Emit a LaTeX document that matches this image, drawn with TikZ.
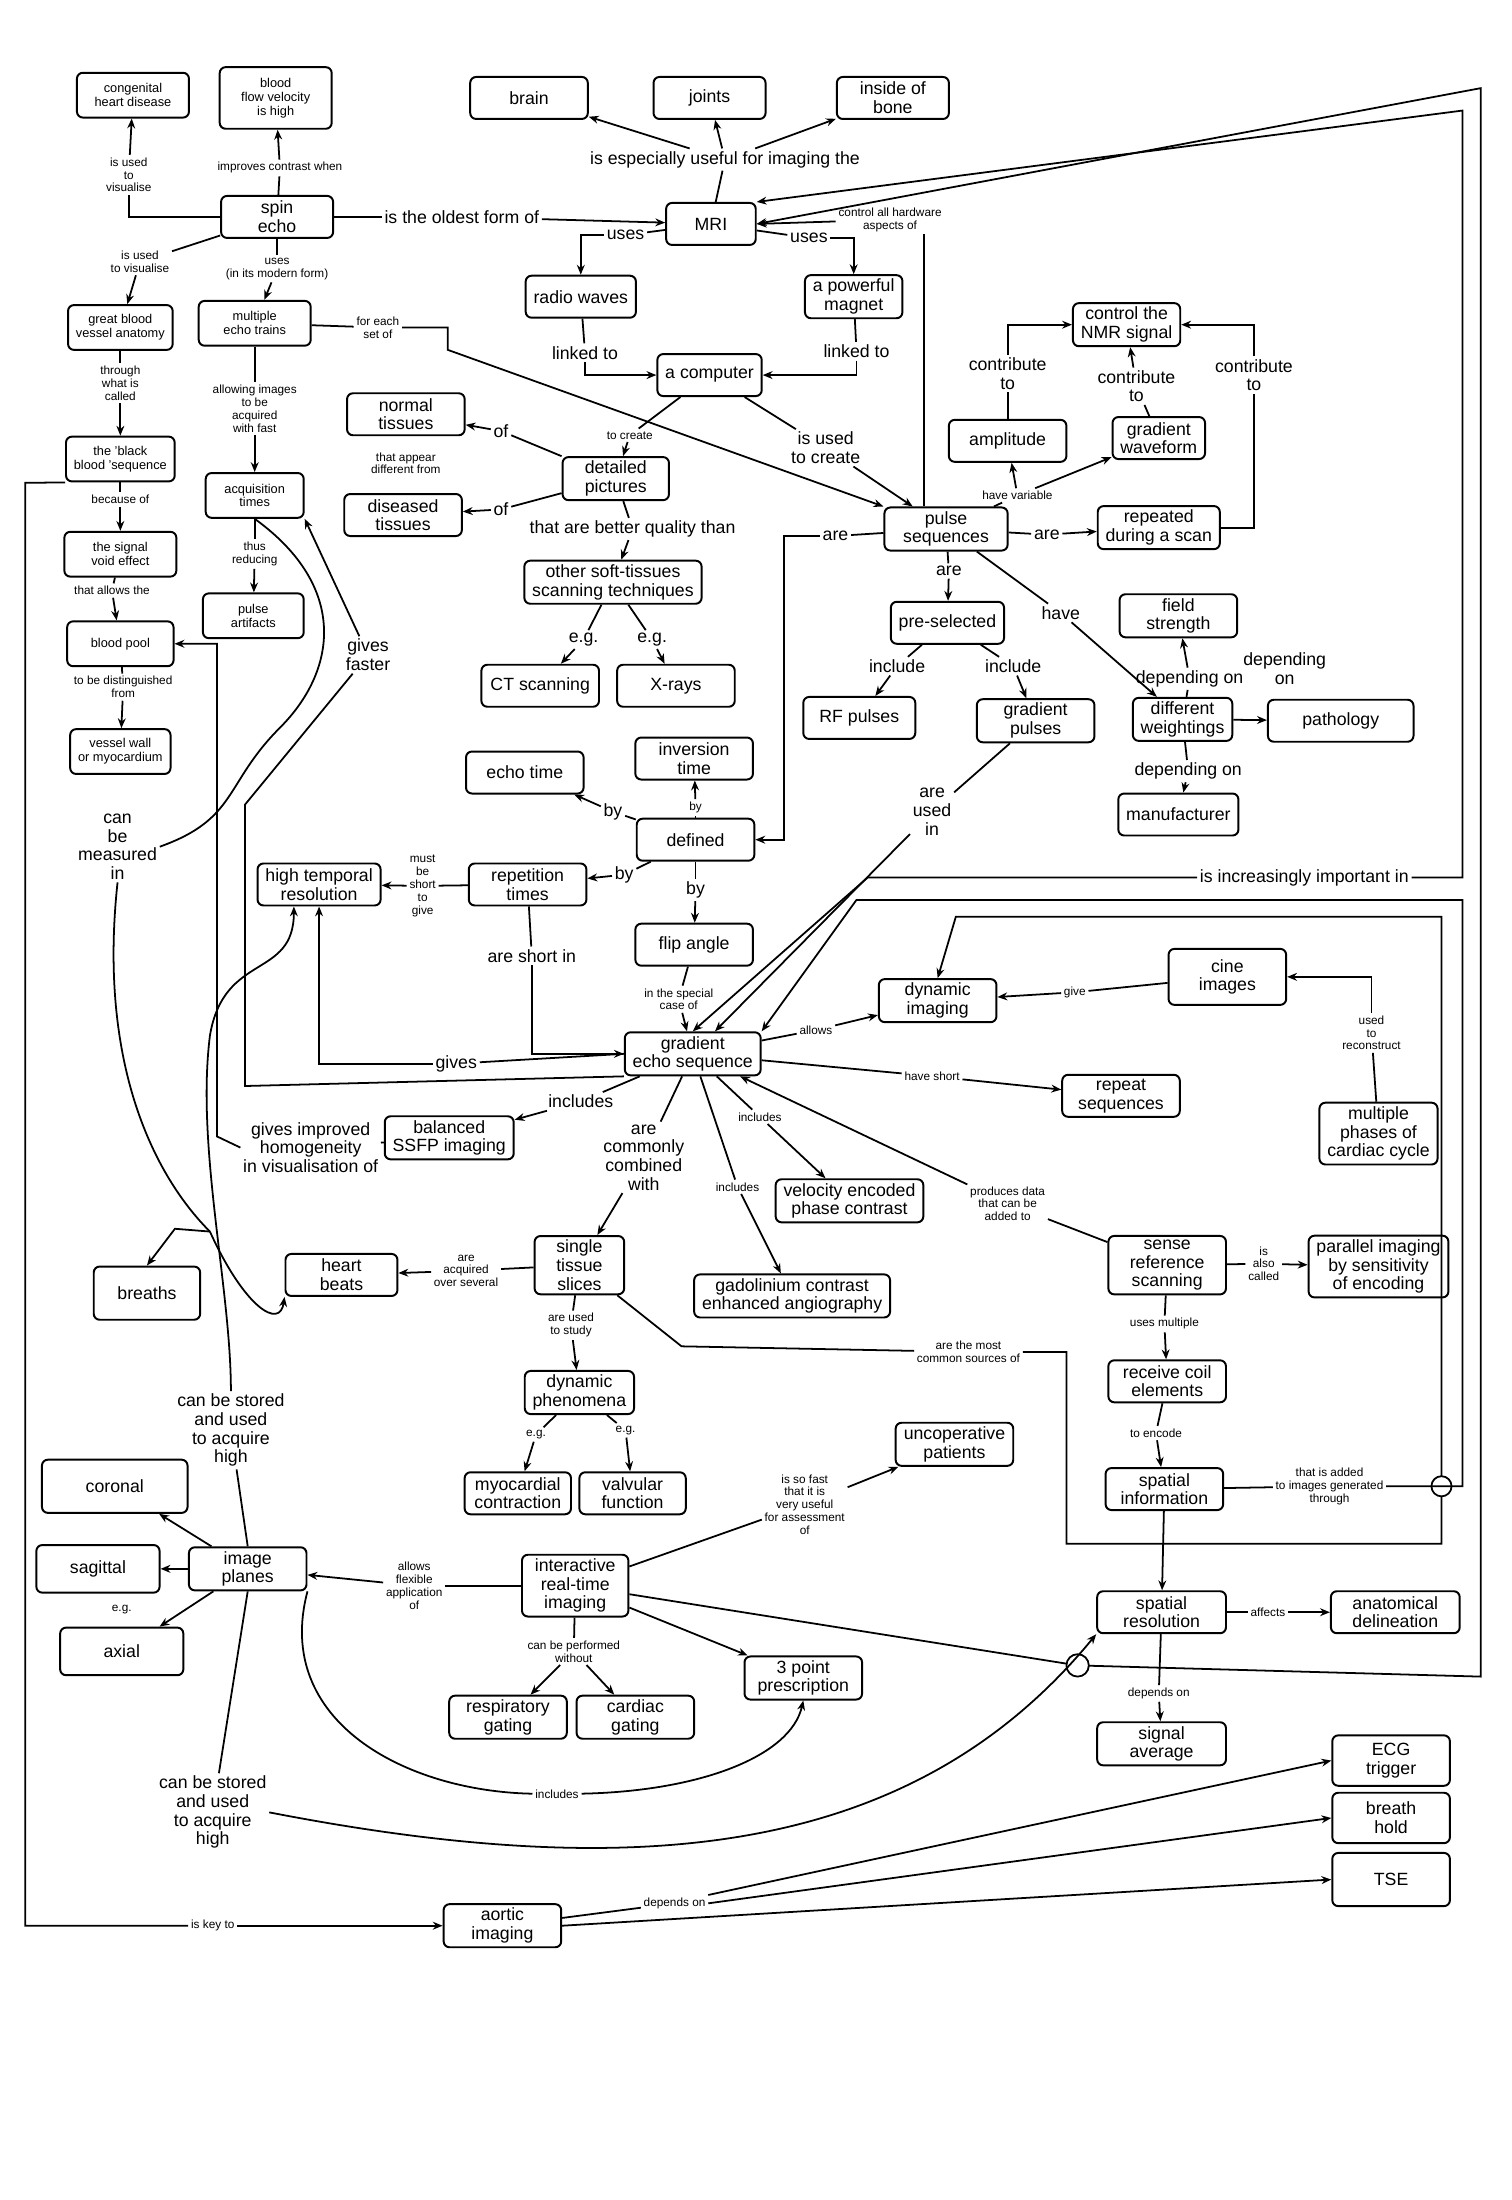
\documentclass[tikz,border=0pt]{standalone}
\usepackage{fontspec}
\setmainfont{Liberation Sans}
\usepackage{tikz}
\usetikzlibrary{shapes,calc,positioning,arrows.meta}

\tikzset{
  box/.style={draw,line width=1pt,rounded corners=3pt,align=center,inner xsep=4pt,inner ysep=2pt,
    minimum height=0.75cm,font=\fontsize{9}{9.5}\selectfont},
  sbox/.style={box,minimum height=0.8cm,font=\fontsize{6.5}{7}\selectfont},
  lbl/.style={align=center,inner sep=1pt,font=\fontsize{9}{9.5}\selectfont},
  sml/.style={align=center,inner sep=1pt,font=\fontsize{6}{6.5}\selectfont},
  >={Stealth[length=5pt,width=4pt]},
  every path/.append style={line width=0.9pt}
}

\begin{document}
\begin{tikzpicture}[x=0.025cm,y=-0.025cm]
\useasboundingbox (0,0) rectangle (1080,1572);
% concepts
\node[sbox,minimum width=2cm] (chd) at (95,68) {congenital\\heart disease};
\node[sbox,minimum width=2cm,minimum height=1.1cm] (bfv) at (197,70) {blood\\flow velocity\\is high};
\node[box,minimum width=2.1cm] (brain) at (378,70) {brain};
\node[box,minimum width=2cm] (joints) at (507,70) {joints};
\node[box,minimum width=2cm] (bone) at (638,70) {inside of\\bone};
\node[box,minimum width=1.6cm] (mri) at (508,160) {MRI};
\node[box,minimum width=2cm] (spin) at (198,155) {spin\\echo};
\node[box] (radio) at (415,212) {radio waves};
\node[box] (magnet) at (610,212) {a powerful\\magnet};
\node[box] (nmr) at (805,232) {control the\\NMR signal};
\node[sbox] (gbv) at (86,234) {great blood\\vessel anatomy};
\node[sbox,minimum width=2cm] (met) at (182,231) {multiple\\echo trains};
\node[box] (computer) at (507,268) {a computer};
\node[box,minimum width=2.1cm] (normal) at (290,296) {normal\\tissues};
\node[box,minimum width=2.1cm] (amplitude) at (720,315) {amplitude};
\node[box] (gradwave) at (828,313) {gradient\\waveform};
\node[box,minimum width=1.9cm] (detailed) at (440,342) {detailed\\pictures};
\node[sbox] (bbs) at (86,328) {the 'black\\blood 'sequence};
\node[sbox,minimum width=1.75cm] (acq) at (182,354) {acquisition\\times};
\node[box,minimum width=2.1cm] (diseased) at (288,368) {diseased\\tissues};
\node[box,minimum width=2.2cm] (pulse) at (676,378) {pulse\\sequences};
\node[box] (repeated) at (828,377) {repeated\\during a scan};
\node[sbox,minimum width=2cm] (svoid) at (86,396) {the signal\\void effect};
\node[box] (other) at (438,416) {other soft-tissues\\scanning techniques};
\node[sbox,minimum width=1.8cm] (artifacts) at (181,440) {pulse\\artifacts};
\node[box,minimum width=2.1cm] (field) at (842,440) {field\\strength};
\node[box] (preselected) at (677,445) {pre-selected};
\node[sbox,minimum width=1.9cm] (bpool) at (86,460) {blood pool};
\node[box,minimum width=2.1cm] (ct) at (386,490) {CT scanning};
\node[box,minimum width=2.1cm] (xrays) at (483,490) {X-rays};
\node[box,minimum width=2cm] (rf) at (614,513) {RF pulses};
\node[box,minimum width=2.1cm] (gradpulses) at (740,515) {gradient\\pulses};
\node[box] (weightings) at (845,514) {different\\weightings};
\node[box,minimum width=2.6cm] (pathology) at (958,515) {pathology};
\node[sbox] (vessel) at (86,537) {vessel wall\\or myocardium};
\node[box,minimum width=2.1cm] (echotime) at (375,552) {echo time};
\node[box,minimum width=2.1cm] (inversion) at (496,542) {inversion\\time};
\node[box] (manufacturer) at (842,582) {manufacturer};
\node[box,minimum width=2.1cm] (defined) at (497,600) {defined};
\node[box] (hightemp) at (228,632) {high temporal\\resolution};
\node[box,minimum width=2.1cm] (reptimes) at (377,632) {repetition\\times};
\node[box,minimum width=2.1cm] (flip) at (496,675) {flip angle};
\node[box,minimum width=2.1cm,minimum height=1cm] (cine) at (877,698) {cine\\images};
\node[box,minimum width=2.1cm] (dynimg) at (670,715) {dynamic\\imaging};
\node[box] (ges) at (495,753) {gradient\\echo sequence};
\node[box,minimum width=2.1cm] (repseq) at (801,783) {repeat\\sequences};
\node[box] (ssfp) at (321,813) {balanced\\SSFP imaging};
\node[box] (mphases) at (985,810) {multiple\\phases of\\cardiac cycle};
\node[box] (velocity) at (607,858) {velocity encoded\\phase contrast};
\node[box,minimum width=1.9cm,minimum height=0.95cm] (breaths) at (105,924) {breaths};
\node[box,minimum width=2cm] (heartbeats) at (244,911) {heart\\beats};
\node[box,minimum width=1.6cm] (sts) at (414,904) {single\\tissue\\slices};
\node[box] (gad) at (566,926) {gadolinium contrast\\enhanced angiography};
\node[box,minimum width=2.1cm] (sense) at (834,904) {sense\\reference\\scanning};
\node[box] (parallel) at (985,905) {parallel imaging\\by sensitivity\\of encoding};
\node[box,minimum width=1.9cm] (dynphen) at (414,995) {dynamic\\phenomena};
\node[box,minimum width=2.1cm] (receive) at (834,987) {receive coil\\elements};
\node[box,minimum width=2.1cm] (uncoop) at (682,1032) {uncoperative\\patients};
\node[box,minimum width=2.6cm,minimum height=0.95cm] (coronal) at (82,1062) {coronal};
\node[box,minimum width=1.9cm] (myocard) at (370,1067) {myocardial\\contraction};
\node[box,minimum width=1.9cm] (valvular) at (452,1067) {valvular\\function};
\node[box,minimum width=2.1cm] (spatialinfo) at (832,1064) {spatial\\information};
\node[box,minimum width=2.2cm,minimum height=0.85cm] (sagittal) at (70,1121) {sagittal};
\node[box,minimum width=2.1cm] (planes) at (177,1121) {image\\planes};
\node[box,minimum width=1.9cm] (interactive) at (411,1133) {interactive\\real-time\\imaging};
\node[box,minimum width=2.3cm] (spatialres) at (830,1152) {spatial\\resolution};
\node[box,minimum width=2.3cm] (anat) at (997,1152) {anatomical\\delineation};
\node[box,minimum width=2.2cm,minimum height=0.85cm] (axial) at (87,1180) {axial};
\node[box,minimum width=2.1cm] (threepoint) at (574,1199) {3 point\\prescription};
\node[box,minimum width=2.1cm] (resp) at (363,1227) {respiratory\\gating};
\node[box,minimum width=2.1cm] (cardiac) at (454,1227) {cardiac\\gating};
\node[box,minimum width=2.3cm] (signalavg) at (830,1246) {signal\\average};
\node[box,minimum width=2.1cm,minimum height=0.9cm] (ecg) at (994,1258) {ECG\\trigger};
\node[box,minimum width=2.1cm,minimum height=0.9cm] (breathhold) at (994,1299) {breath\\hold};
\node[box,minimum width=2.1cm,minimum height=0.95cm] (tse) at (994,1343) {TSE};
\node[box,minimum width=2.1cm] (aortic) at (359,1376) {aortic\\imaging};

% linking phrases
\node[sml] (l_visChd) at (92,125) {is used\\to\\visualise};
\node[sml] (l_improves) at (200,120) {improves contrast when};
\node[lbl] (l_oldest) at (330,155) {is the oldest form of};
\node[sml] (l_visGbv) at (100,187) {is used\\to visualise};
\node[sml] (l_modern) at (198,192) {uses\\(in its modern form)};
\node[sml] (l_through) at (86,274) {through\\what is\\called};
\node[sml] (l_because) at (86,357) {because of};
\node[sml] (l_allows) at (80,422) {that allows the};
\node[sml] (l_disting) at (88,491) {to be distinguished\\from};
\node[sml] (l_allowing) at (182,292) {allowing images\\to be\\acquired\\with fast};
\node[sml] (l_thus) at (182,396) {thus\\reducing};
\node[sml] (l_foreach) at (270,234) {for each\\set of};
\node[lbl] (l_useful) at (518,114) {is especially useful for imaging the};
\node[lbl] (l_uses1) at (447,168) {uses};
\node[lbl] (l_uses2) at (578,170) {uses};
\node[lbl] (l_linked1) at (418,252) {linked to};
\node[lbl] (l_linked2) at (612,251) {linked to};
\node[sml] (l_tocreate) at (450,311) {to create};
\node[lbl] (l_usedto) at (590,320) {is used\\to create};
\node[lbl] (l_of1) at (358,308) {of};
\node[lbl] (l_of2) at (358,364) {of};
\node[sml] (l_appear) at (290,331) {that appear\\different from};
\node[lbl] (l_better) at (452,378) {that are better quality than};
\node[lbl] (l_eg1) at (417,457) {e.g.};
\node[lbl] (l_eg2) at (466,457) {e.g.};
\node[sml] (l_hardware) at (636,157) {control all hardware\\aspects of};
\node[lbl] (l_are1) at (678,408) {are};
\node[lbl] (l_are2) at (748,382) {are};
\node[lbl] (l_are3) at (597,383) {are};
\node[sml] (l_variable) at (727,354) {have variable};
\node[lbl] (l_contrib1) at (720,267) {contribute\\to};
\node[lbl] (l_contrib2) at (812,276) {contribute\\to};
\node[lbl] (l_contrib3) at (896,268) {contribute\\to};
\node[lbl] (l_have) at (758,438) {have};
\node[lbl] (l_dep1) at (850,485) {depending on};
\node[lbl] (l_dep2) at (918,478) {depending\\on};
\node[lbl] (l_dep3) at (849,551) {depending on};
\node[lbl] (l_incl1) at (641,476) {include};
\node[lbl] (l_incl2) at (724,476) {include};
\node[lbl] (l_usedin) at (666,580) {are\\used\\in};
\node[lbl] (l_by1) at (438,580) {by};
\node[sml] (l_by2) at (497,577) {by};
\node[lbl] (l_by3) at (446,625) {by};
\node[lbl] (l_by4) at (497,636) {by};
\node[sml] (l_must) at (302,633) {must\\be\\short\\to\\give};
\node[lbl] (l_short) at (380,683) {are short in};
\node[sml] (l_special) at (485,714) {in the special\\case of};
\node[lbl] (l_gives) at (326,760) {gives};
\node[lbl] (l_faster) at (263,468) {gives\\faster};
\node[sml] (l_allows2) at (583,736) {allows};
\node[sml] (l_give) at (768,709) {give};
\node[sml] (l_reconstruct) at (980,738) {used\\to\\reconstruct};
\node[sml] (l_haveshort) at (666,769) {have short};
\node[lbl] (l_includes1) at (415,787) {includes};
\node[sml] (l_includes2) at (543,798) {includes};
\node[sml] (l_includes3) at (527,848) {includes};
\node[lbl] (l_homog) at (222,820) {gives improved\\homogeneity\\in visualisation of};
\node[lbl] (l_combined) at (460,827) {are\\commonly\\combined\\with};
\node[sml] (l_acquired) at (333,908) {are\\acquired\\over several};
\node[sml] (l_study) at (408,947) {are used\\to study};
\node[sml] (l_eg3) at (383,1025) {e.g.};
\node[sml] (l_eg4) at (447,1022) {e.g.};
\node[sml] (l_produces) at (720,860) {produces data\\that can be\\added to};
\node[sml] (l_called) at (903,903) {is\\also\\called};
\node[sml] (l_multiple) at (832,946) {uses multiple};
\node[sml] (l_encode) at (826,1024) {to encode};
\node[sml] (l_added) at (950,1062) {that is added\\to images generated\\through};
\node[lbl] (l_important) at (932,627) {is increasingly important in};
\node[sml] (l_sources) at (692,966) {are the most\\common sources of};
\node[sml] (l_flexible) at (296,1133) {allows\\flexible\\application\\of};
\node[sml] (l_eg5) at (87,1150) {e.g.};
\node[sml] (l_sofast) at (575,1075) {is so fast\\that it is\\very useful\\for assessment\\of};
\node[sml] (l_without) at (410,1180) {can be performed\\without};
\node[sml] (l_includes4) at (398,1282) {includes};
\node[lbl] (l_stored1) at (165,1022) {can be stored\\and used\\to acquire\\high};
\node[lbl] (l_stored2) at (152,1295) {can be stored\\and used\\to acquire\\high};
\node[sml] (l_affects) at (906,1152) {affects};
\node[sml] (l_dependson) at (828,1210) {depends on};
\node[sml] (l_dependson2) at (482,1360) {depends on};
\node[sml] (l_key) at (152,1376) {is key to};
\node[lbl] (l_measured) at (84,605) {can\\be\\measured\\in};

% spin echo and the left column
\draw (spin) -- (92,155) -- (l_visChd);
\draw[->] (l_visChd) -- (chd);
\draw (spin) -- (l_improves);
\draw[->] (l_improves) -- (bfv);
\draw (spin) -- (l_oldest);
\draw[->] (l_oldest) -- (mri);
\draw (spin) -- (l_visGbv);
\draw[->] (l_visGbv) -- (gbv);
\draw (spin) -- (l_modern);
\draw[->] (l_modern) -- (met);
\draw (gbv) -- (l_through);
\draw[->] (l_through) -- (bbs);
\draw (bbs) -- (l_because);
\draw[->] (l_because) -- (svoid);
\draw (svoid) -- (l_allows);
\draw[->] (l_allows) -- (bpool);
\draw (bpool) -- (l_disting);
\draw[->] (l_disting) -- (vessel);
\draw (met) -- (l_allowing);
\draw[->] (l_allowing) -- (acq);
\draw (acq) -- (l_thus);
\draw[->] (l_thus) -- (artifacts);
\draw (met) -- (l_foreach);
\draw[->] (l_foreach.east) -- (320,234) -- (320,250) -- (pulse.north west);

% MRI and its hardware
\draw (mri) -- (l_useful);
\draw[->] (l_useful) -- (brain);
\draw[->] (l_useful) -- (joints);
\draw[->] (l_useful) -- (bone);
\draw (mri) -- (l_uses1);
\draw[->] (l_uses1.west) -| (radio.north);
\draw (mri) -- (l_uses2);
\draw[->] (l_uses2.east) -| (magnet.north);
\draw (radio) -- (l_linked1);
\draw[->] (l_linked1.south) |- (computer.west);
\draw (magnet) -- (l_linked2);
\draw[->] (l_linked2.south) |- (computer.east);
\draw (computer) -- (l_tocreate);
\draw[->] (l_tocreate) -- (detailed);
\draw (computer) -- (l_usedto);
\draw[->] (l_usedto) -- (pulse);
\draw (detailed) -- (l_of1);
\draw[->] (l_of1) -- (normal);
\draw (detailed) -- (l_of2);
\draw[->] (l_of2) -- (diseased);
\draw (detailed) -- (l_better);
\draw[->] (l_better) -- (other);
\draw (other) -- (l_eg1);
\draw[->] (l_eg1) -- (ct);
\draw (other) -- (l_eg2);
\draw[->] (l_eg2) -- (xrays);

% pulse sequences
\draw ([xshift=-0.4cm]pulse.north) -- ([xshift=-0.4cm]pulse.north |- l_hardware.south);
\draw[->] (l_hardware) -- (mri.east);
\draw (pulse) -- (l_are1);
\draw[->] (l_are1) -- (preselected);
\draw (pulse) -- (l_are2);
\draw[->] (l_are2) -- (repeated);
\draw (pulse) -- (l_variable);
\draw[->] (l_variable) -- (amplitude);
\draw[->] (l_variable) -- (gradwave);
\draw (amplitude) -- (l_contrib1);
\draw[->] (l_contrib1) |- (nmr.west);
\draw (gradwave) -- (l_contrib2);
\draw[->] (l_contrib2) -- (nmr);
\draw (repeated.east) -| (l_contrib3);
\draw[->] (l_contrib3) |- (nmr.east);
\draw (pulse) -- (l_have);
\draw[->] (l_have) -- (weightings);
\draw (weightings) -- (l_dep1);
\draw[->] (l_dep1) -- (field);
\draw[->] (weightings) -- (pathology);
\draw (weightings) -- (l_dep3);
\draw[->] (l_dep3) -- (manufacturer);
\draw (preselected) -- (l_incl1);
\draw[->] (l_incl1) -- (rf);
\draw (preselected) -- (l_incl2);
\draw[->] (l_incl2) -- (gradpulses);
\draw (gradpulses) -- (l_usedin);
\draw[->] (l_usedin) -- (ges);
\draw (pulse) -- (l_are3);
\draw[->] (l_are3.west) -- (560,383) |- (defined.east);

% defined by
\draw (defined) -- (l_by1);
\draw[->] (l_by1) -- (echotime);
\draw (defined) -- (l_by2);
\draw[->] (l_by2) -- (inversion);
\draw (defined) -- (l_by3);
\draw[->] (l_by3) -- (reptimes);
\draw (defined) -- (l_by4);
\draw[->] (l_by4) -- (flip);
\draw (reptimes) -- (l_must);
\draw[->] (l_must) -- (hightemp);
\draw (reptimes) -- (l_short);
\draw[->] (l_short) |- (ges.west);
\draw (flip) -- (l_special);
\draw[->] (l_special) -- (ges);

% gradient echo sequence
\draw (ges.west) -- (l_gives);
\draw[->] (l_gives) -| (hightemp.south);
\draw (ges.south west) -- (175,776) -- (175,575) -- (l_faster);
\draw[->] (l_faster) -- (acq.south east);
\draw (ges) -- (l_allows2);
\draw[->] (l_allows2) -- (dynimg);
\draw (cine) -- (l_give);
\draw[->] (l_give) -- (dynimg);
\draw (mphases) -- (l_reconstruct);
\draw[->] (l_reconstruct) |- (cine.east);
\draw (ges) -- (l_haveshort);
\draw[->] (l_haveshort) -- (repseq);
\draw (ges) -- (l_includes1);
\draw[->] (l_includes1) -- (ssfp);
\draw (ges) -- (l_includes2);
\draw[->] (l_includes2) -- (velocity);
\draw (ges) -- (l_includes3);
\draw[->] (l_includes3) -- (gad);
\draw (ssfp) -- (l_homog);
\draw[->] (l_homog.west) -- (155,812) |- (bpool.east);
\draw (ges) -- (l_combined);
\draw[->] (l_combined) -- (sts);
\draw (sts) -- (l_acquired);
\draw[->] (l_acquired) -- (heartbeats);
\draw (sts) -- (l_study);
\draw[->] (l_study) -- (dynphen);
\draw (dynphen) -- (l_eg3);
\draw[->] (l_eg3) -- (myocard);
\draw (dynphen) -- (l_eg4);
\draw[->] (l_eg4) -- (valvular);

% sense
\draw (sense) -- (l_produces);
\draw[->] (l_produces) -- (ges);
\draw (sense) -- (l_called);
\draw[->] (l_called) -- (parallel);
\draw (sense) -- (l_multiple);
\draw[->] (l_multiple) -- (receive);
\draw (receive) -- (l_encode);
\draw[->] (l_encode) -- (spatialinfo);
\draw[->] (spatialinfo) -- (spatialres);
\draw (spatialres) -- (l_affects);
\draw[->] (l_affects) -- (anat);
\draw (spatialres) -- (l_dependson);
\draw[->] (l_dependson) -- (signalavg);

% long loops on the right
\draw (sts) -- (487,962) -- (l_sources);
\draw[->] (l_sources.east) -- (762,966) -- (762,1103) -- (1030,1103) -- (1030,655) -- (683,655) -- (dynimg.north);
\draw[fill=white] (1030,1062) circle[radius=0.18cm];
\draw (spatialinfo) -- (l_added);
\draw[->] (l_added.east) -- (1045,1062) -- (1045,643) -- (612,643) -- (ges.north east);
\draw[->] (l_important.west) -- (620,627) -- (ges.north);
\draw[->] (l_important.east) -- (1045,627) -- (1045,79) -- (mri.north east);
\draw[->] (interactive) -- (770,1190) -- (1058,1198) -- (1058,63) -- (mri.east);
\draw[fill=white] (770,1190) circle[radius=0.2cm];

% interactive real-time imaging
\draw (interactive) -- (l_flexible);
\draw[->] (l_flexible) -- (planes);
\draw[->] (planes) -- (coronal);
\draw[->] (planes) -- (sagittal);
\draw[->] (planes) -- (axial);
\draw (interactive) -- (l_sofast);
\draw[->] (l_sofast) -- (uncoop);
\draw (interactive) -- (l_without);
\draw[->] (l_without) -- (resp);
\draw[->] (l_without) -- (cardiac);
\draw[->] (interactive) -- (threepoint);
\draw (planes.south east) .. controls (195,1230) and (290,1280) .. (l_includes4);
\draw[->] (l_includes4) .. controls (500,1280) and (565,1255) .. (threepoint.south);
\draw (planes.north) -- (l_stored1);
\draw[->] (l_stored1.north) .. controls (165,920) and (140,820) .. (150,740)
  .. controls (160,680) and (210,700) .. ([xshift=-0.45cm]hightemp.south);
\draw (planes.south) -- (l_stored2);
\draw[->] (l_stored2.east) .. controls (450,1345) and (650,1330) .. (spatialres.south west);
\draw (aortic) -- (l_dependson2);
\draw[->] (l_dependson2.north east) -- (ecg.west);
\draw[->] (l_dependson2.east) -- (breathhold.west);
\draw[->] (aortic.east) -- (tse.west);

% black blood and measuring
\draw (bbs.south west) -- (18,345) -- (18,1376) -- (l_key);
\draw[->] (l_key) -- (aortic);
\draw (acq.south) .. controls (250,420) and (240,480) .. (200,520)
  .. controls (160,560) and (170,585) .. (l_measured.east);
\coordinate (mSplit) at (150,880);
\draw (l_measured.south) .. controls (70,760) and (110,840) .. (mSplit);
\draw[->] (mSplit) -- (125,878) -- (breaths.north);
\draw[->] (mSplit) .. controls (175,935) and (200,950) .. (heartbeats.south west);
\end{tikzpicture}
\end{document}
